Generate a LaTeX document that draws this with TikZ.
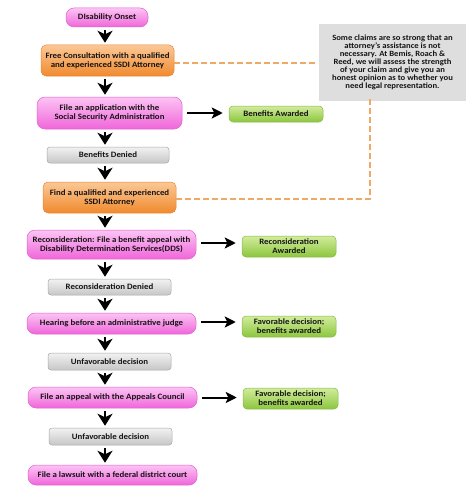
\documentclass[tikz,border=0pt]{standalone}
\usepackage{fontspec}
\setmainfont{Carlito}[FakeStretch=1.08]
\usetikzlibrary{arrows.meta}
\definecolor{pinkT}{HTML}{FCC4F4}
\definecolor{pinkB}{HTML}{F066DA}
\definecolor{pinkD}{HTML}{E060CC}
\definecolor{oraT}{HTML}{FCC896}
\definecolor{oraB}{HTML}{F08A2E}
\definecolor{oraD}{HTML}{E48A3A}
\definecolor{grT}{HTML}{F2F2F2}
\definecolor{grB}{HTML}{C6C6C6}
\definecolor{grD}{HTML}{A8A8A8}
\definecolor{gnT}{HTML}{D2EC9C}
\definecolor{gnB}{HTML}{8CC63E}
\definecolor{gnD}{HTML}{86B848}
\definecolor{noteF}{HTML}{DEDEDE}
\definecolor{dashC}{HTML}{F2A865}
\definecolor{txt}{HTML}{141414}
\begin{document}
\begin{tikzpicture}[x=1pt,y=-1pt,
  base/.style={font=\fontsize{8.2}{8.8}\selectfont\bfseries, text=txt, align=center, inner sep=0pt, draw, line width=0.5pt},
  pinkbox/.style={base, top color=pinkT, bottom color=pinkB, draw=pinkD, rounded corners=8pt},
  orabox/.style={base, top color=oraT, bottom color=oraB, draw=oraD, rounded corners=5pt},
  graybox/.style={base, top color=grT, bottom color=grB, draw=grD, rounded corners=3pt},
  greenbox/.style={base, top color=gnT, bottom color=gnB, draw=gnD, rounded corners=4pt},
  notebox/.style={font=\fontsize{8}{7.9}\selectfont\bfseries, text=txt, align=center, fill=noteF, inner sep=0pt},
  downarr/.style={line width=2.4pt, -{Stealth[length=12pt,width=15pt,inset=3.5pt]}, shorten <=3pt, shorten >=2pt},
  rightarr/.style={line width=2pt, -{Stealth[length=11pt,width=11pt,inset=2.5pt]}, shorten <=5pt, shorten >=6pt},
  dashline/.style={draw=dashC, line width=1.1pt, dash pattern=on 6pt off 3pt}
]
\useasboundingbox (0,0) rectangle (474,495);

% main column
\node[pinkbox, minimum width=82pt, minimum height=19pt] (onset) at (107,17.5) {DIsability Onset};
\node[orabox, minimum width=133pt, minimum height=31pt] (consult) at (107.5,60.5) {Free Consultation with a qualified\\and experienced SSDI Attorney};
\node[pinkbox, minimum width=145pt, minimum height=32pt] (apply) at (109.5,113) {File an application with the\\Social Security Administration};
\node[graybox, minimum width=122pt, minimum height=16pt] (denied) at (108,155) {Benefits Denied};
\node[orabox, minimum width=133pt, minimum height=31pt] (attorney) at (109.5,197.5) {Find a qualified and experienced\\SSDI Attorney};
\node[pinkbox, minimum width=169pt, minimum height=29pt] (recon) at (111.5,244.5) {Reconsideration: File a benefit appeal with\\Disability Determination Services(DDS)};
\node[graybox, minimum width=123pt, minimum height=16pt] (recdenied) at (109.5,287) {Reconsideration Denied};
\node[pinkbox, minimum width=169pt, minimum height=21pt] (hearing) at (111.5,323.5) {Hearing before an administrative judge};
\node[graybox, minimum width=123pt, minimum height=17pt] (unfav1) at (109.5,361.5) {Unfavorable decision};
\node[pinkbox, minimum width=169pt, minimum height=21pt] (appeal) at (112.5,397.5) {File an appeal with the Appeals Council};
\node[graybox, minimum width=123pt, minimum height=17pt] (unfav2) at (110.5,436.5) {Unfavorable decision};
\node[pinkbox, minimum width=169pt, minimum height=20pt] (lawsuit) at (112.5,475) {File a lawsuit with a federal district court};

% outcomes
\node[greenbox, minimum width=94pt, minimum height=16pt] (awarded) at (276,114) {Benefits Awarded};
\node[greenbox, minimum width=94pt, minimum height=21pt] (reconaw) at (289,246.5) {Reconsideration\\Awarded};
\node[greenbox, minimum width=94pt, minimum height=21pt] (fav1) at (289,326.5) {Favorable decision;\\benefits awarded};
\node[greenbox, minimum width=95pt, minimum height=21pt] (fav2) at (290.5,398.5) {Favorable decision;\\benefits awarded};

% note
\node[notebox, minimum width=147pt, minimum height=77pt] (note) at (392.5,62.5) {Some claims are so strong that an\\attorney's assistance is not\\necessary. At Bemis, Roach \&\\Reed, we will assess the strength\\of your claim and give you an\\honest opinion as to whether you\\need legal representation.};

% dashed links
\draw[dashline] ([yshift=-2.5pt]consult.east) -- ([yshift=-2.5pt,xshift=-3pt]consult.east -| note.west);
\draw[dashline] ([yshift=-1.5pt]attorney.east) -| ([xshift=-22.5pt,yshift=2pt]note.south);

% down arrows
\foreach \a/\b in {onset/consult, consult/apply, apply/denied, denied/attorney, attorney/recon, recon/recdenied, recdenied/hearing, hearing/unfav1, unfav1/appeal, appeal/unfav2, unfav2/lawsuit}{
  \draw[downarr] ([xshift=-2pt]\a.south -| onset.south) -- ([xshift=-2pt]\b.north -| onset.south);
}

% right arrows
\draw[rightarr] (apply.east) -- (apply.east -| awarded.west);
\draw[rightarr] ([yshift=1.5pt]recon.east) -- ([yshift=1.5pt]recon.east -| reconaw.west);
\draw[rightarr] ([yshift=1.5pt]hearing.east) -- ([yshift=1.5pt]hearing.east -| fav1.west);
\draw[rightarr] (appeal.east) -- (appeal.east -| fav2.west);
\end{tikzpicture}
\end{document}
